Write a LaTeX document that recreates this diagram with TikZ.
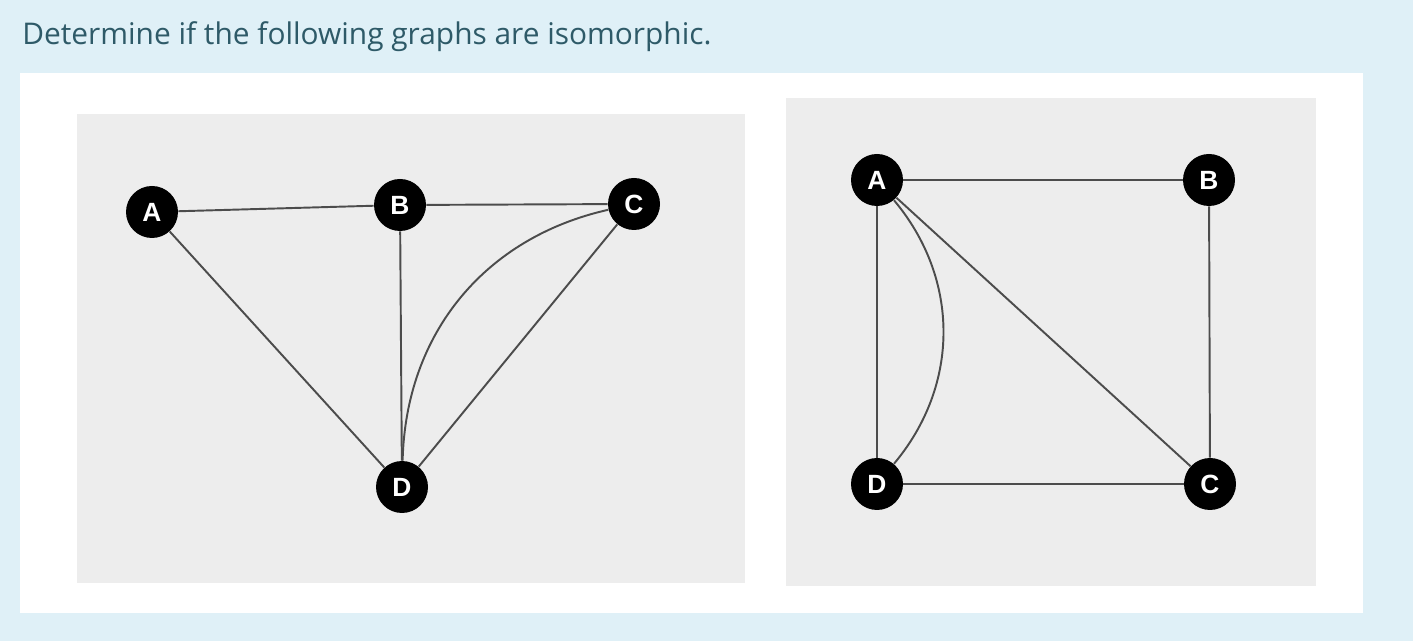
\documentclass[tikz,border=0pt]{standalone}
\usepackage{fontspec}
\setmainfont{Open Sans}
\newfontfamily\lab{Liberation Sans}
\definecolor{bgblue}{HTML}{DFF0F7}
\definecolor{panelgray}{HTML}{EDEDED}
\definecolor{titlecol}{HTML}{2E5A68}
\tikzset{
  vtx/.style={circle,fill=black,minimum size=52*0.02cm,inner sep=0pt,text=white,font=\lab\bfseries\fontsize{15}{15}\selectfont},
  edge/.style={draw=black!70,line width=1.1pt}
}
\begin{document}
\begin{tikzpicture}[x=0.02cm,y=-0.02cm]
\fill[bgblue] (0,0) rectangle (1413,641);
\fill[white] (20,73) rectangle (1363,613);
\fill[panelgray] (77,114) rectangle (745,583);
\fill[panelgray] (786,98) rectangle (1316,586);
\node[anchor=west,text=titlecol,font=\fontsize{17}{20}\selectfont,inner sep=0pt] (title) at (22,37) {Determine if the following graphs are isomorphic.};
% left graph
\node[vtx] (A) at (152,212) {A};
\node[vtx] (B) at (400,205) {B};
\node[vtx] (C) at (634,204) {C};
\node[vtx] (D) at (402,487) {D};
\draw[edge] (A) -- (B);
\draw[edge] (B) -- (C);
\draw[edge] (A) -- (D);
\draw[edge] (B) -- (D);
\draw[edge] (D) -- (C);
\draw[edge] (D) to[bend left=38] (C);
% right graph
\node[vtx] (A2) at (877,180) {A};
\node[vtx] (B2) at (1209,180) {B};
\node[vtx] (C2) at (1210,484) {C};
\node[vtx] (D2) at (877,484) {D};
\draw[edge] (A2) -- (B2);
\draw[edge] (B2) -- (C2);
\draw[edge] (A2) -- (D2);
\draw[edge] (A2) to[bend left=40] (D2);
\draw[edge] (A2) -- (C2);
\draw[edge] (D2) -- (C2);
\end{tikzpicture}
\end{document}
